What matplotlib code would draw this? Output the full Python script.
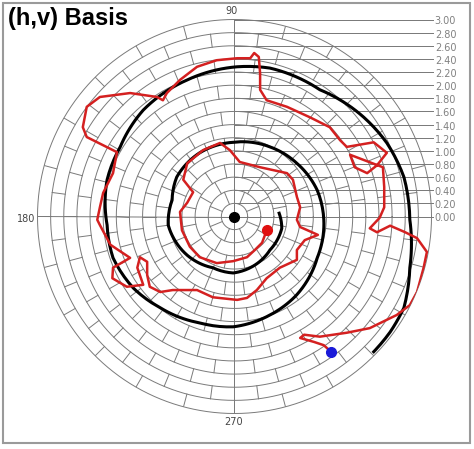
import numpy as np
import matplotlib
matplotlib.use("Agg")
import matplotlib.pyplot as plt
from matplotlib.patches import Rectangle

# black reference spiral, (h, v) components
spiral_h = [0.68, 0.72, 0.54, 0.24, -0.02, -0.33, -0.72, -1.01, -0.95, -0.88,
            -0.53, -0.02, 0.54, 0.95, 1.26, 1.36, 1.26, 0.95, 0.54, -0.02,
            -0.53, -1.13, -1.54, -1.85, -1.94, -1.94, -1.74, -1.39, -0.72, 0.04,
            0.54, 1.30, 1.97, 2.32, 2.58, 2.67, 2.67, 2.58, 2.37, 2.12]
spiral_v = [0.05, -0.18, -0.51, -0.78, -0.86, -0.78, -0.59, -0.13, 0.25, 0.60,
            0.97, 1.13, 1.06, 0.81, 0.40, -0.05, -0.63, -1.19, -1.50, -1.68,
            -1.62, -1.39, -1.09, -0.63, -0.13, 0.56, 1.06, 1.62, 2.08, 2.28,
            2.26, 1.93, 1.51, 1.12, 0.60, -0.05, -0.78, -1.39, -1.76, -2.06]

# measured trajectory (red), start -> end
path_h = [0.49, 0.42, 0.31, 0.19, -0.02, -0.27, -0.53, -0.68, -0.80, -0.83,
          -0.72, -0.63, -0.78, -0.72, -0.48, -0.22, -0.07, 0.08, 0.39, 0.80,
          0.89, 0.95, 1.00, 0.95, 1.00, 1.27, 1.07, 0.95, 0.95, 0.69,
          0.49, 0.34, 0.19, 0.04, -0.33, -0.57, -0.94, -1.13, -1.29, -1.33,
          -1.33, -1.44, -1.48, -1.39, -1.64, -1.86, -1.85, -1.59, -1.89, -2.05,
          -2.09, -2.05, -2.00, -1.85, -1.79, -2.25, -2.31, -2.25, -2.05, -1.59,
          -1.18, -1.09, -1.03, -0.83, -0.57, -0.27, 0.04, 0.24, 0.30, 0.37,
          0.39, 0.39, 0.49, 0.80, 1.15, 1.45, 1.61, 1.71, 2.12, 2.32,
          2.17, 2.02, 1.83, 1.76, 2.26, 2.28, 2.28, 2.21, 2.06, 2.17,
          2.37, 2.60, 2.78, 2.93, 2.88, 2.78, 2.67, 2.47, 2.06, 1.71,
          1.30, 1.06, 1.00, 1.21, 1.36, 1.47]
path_v = [-0.21, -0.40, -0.51, -0.62, -0.68, -0.71, -0.62, -0.46, -0.21, 0.07,
          0.21, 0.37, 0.56, 0.81, 1.01, 1.12, 1.01, 0.83, 0.75, 0.66,
          0.56, 0.30, 0.14, -0.05, -0.16, -0.28, -0.36, -0.51, -0.66, -0.78,
          -0.94, -1.12, -1.24, -1.27, -1.23, -1.12, -1.12, -1.15, -1.07, -0.89,
          -0.69, -0.62, -0.78, -1.04, -1.07, -0.94, -0.78, -0.63, -0.43, -0.13,
          -0.05, 0.14, 0.36, 0.66, 0.98, 1.21, 1.36, 1.67, 1.82, 1.88,
          1.82, 1.77, 1.88, 2.08, 2.28, 2.38, 2.41, 2.41, 2.49, 2.43,
          2.18, 1.93, 1.77, 1.67, 1.51, 1.36, 1.16, 1.06, 1.13, 0.97,
          0.78, 0.66, 0.75, 0.94, 0.75, 0.45, 0.14, -0.02, -0.18, -0.24,
          -0.14, -0.24, -0.33, -0.54, -0.78, -1.15, -1.35, -1.50, -1.70, -1.77,
          -1.83, -1.80, -1.85, -1.91, -1.96, -2.06]

origin_hv = (0.0, 0.0)
start_hv = (0.49, -0.21)
end_hv = (1.47, -2.06)

ring_values = np.round(np.arange(0, 3.01, 0.2), 2)
angle_labels = ["90", "180", "270"]

W, H = 474, 449
fig = plt.figure(figsize=(W / 100, H / 100), dpi=100)
fig.patch.set_facecolor("white")

cx0, cy0, R = 234.5, 216.5, 197
rect = [(cx0 - R) / W, (H - cy0 - R) / H, 2 * R / W, 2 * R / H]

# flat axes underneath for the value scale lines on the right
cx = fig.add_axes(rect)
cx.set_xlim(-3, 3)
cx.set_ylim(-3, 3)
cx.axis("off")
cx.set_zorder(0)

ax = fig.add_axes(rect, projection="polar")
ax.set_zorder(1)
ax.set_facecolor("none")
ax.set_ylim(0, 3)
ax.set_xticks([])
ax.set_yticks([])
ax.grid(False)
ax.spines["polar"].set_visible(False)

gcol = "#7a7a7a"
th = np.linspace(0, 2 * np.pi, 721)
for r in ring_values[1:]:
    ax.plot(th, np.full_like(th, r), color=gcol, lw=0.7, zorder=1, clip_on=False)

# staggered spoke segments between rings
for k in range(15):
    r0, r1 = 0.2 * k, 0.2 * (k + 1)
    if k == 0:
        n = 4
    elif k == 1:
        n = 8
    elif k == 2:
        n = 12
    elif k < 5:
        n = 16
    else:
        n = 24
    off = 0.5 * (k % 2) if k > 0 else 0
    for a in (np.arange(n) + off) * 2 * np.pi / n:
        ax.plot([a, a], [r0, r1], color=gcol, lw=0.7, zorder=1)
for a in [0, np.pi / 2, np.pi, 1.5 * np.pi]:
    ax.plot([a, a], [0, 3], color=gcol, lw=0.7, zorder=1)

# value scale
for v in ring_values:
    cx.plot([0, 3.03], [v, v], color="#777777", lw=0.7, clip_on=False)
    cx.text(3.05, v - 0.03, f"{v:.2f}", fontsize=7, color="#808080",
            ha="left", va="center", clip_on=False)

cx.text(-0.04, 3.13, angle_labels[0], fontsize=7, color="#444444", ha="center", va="center")
cx.text(-3.03, -0.04, angle_labels[1], fontsize=7, color="#444444", ha="right", va="center")
cx.text(-0.02, -3.13, angle_labels[2], fontsize=7, color="#444444", ha="center", va="center")

# data
sh, sv = np.array(spiral_h), np.array(spiral_v)
sp, = ax.plot(np.unwrap(np.arctan2(sv, sh)), np.hypot(sh, sv), color="black", lw=2.2, zorder=3)
sp.get_path()._interpolation_steps = 10

ph, pv = np.array(path_h), np.array(path_v)
ax.plot(np.arctan2(pv, ph), np.hypot(ph, pv), color="#d42020", lw=1.8, zorder=4)

for (h, v), c in [(origin_hv, "black"), (start_hv, "#e01010"), (end_hv, "#1a1ad8")]:
    ax.plot(np.arctan2(v, h), np.hypot(h, v), "o", color=c, ms=7, zorder=5)

fig.text(8 / W, 1 - 19 / H, "(h,v) Basis", fontsize=17, fontweight="bold",
         family="Liberation Sans", ha="left", va="center")

fig.add_artist(Rectangle((3 / W, 6 / H), 467 / W, 440 / H, transform=fig.transFigure,
                         fill=False, edgecolor="#9a9a9a", lw=1.5))

fig.savefig("out.png", dpi=100, facecolor="white")
